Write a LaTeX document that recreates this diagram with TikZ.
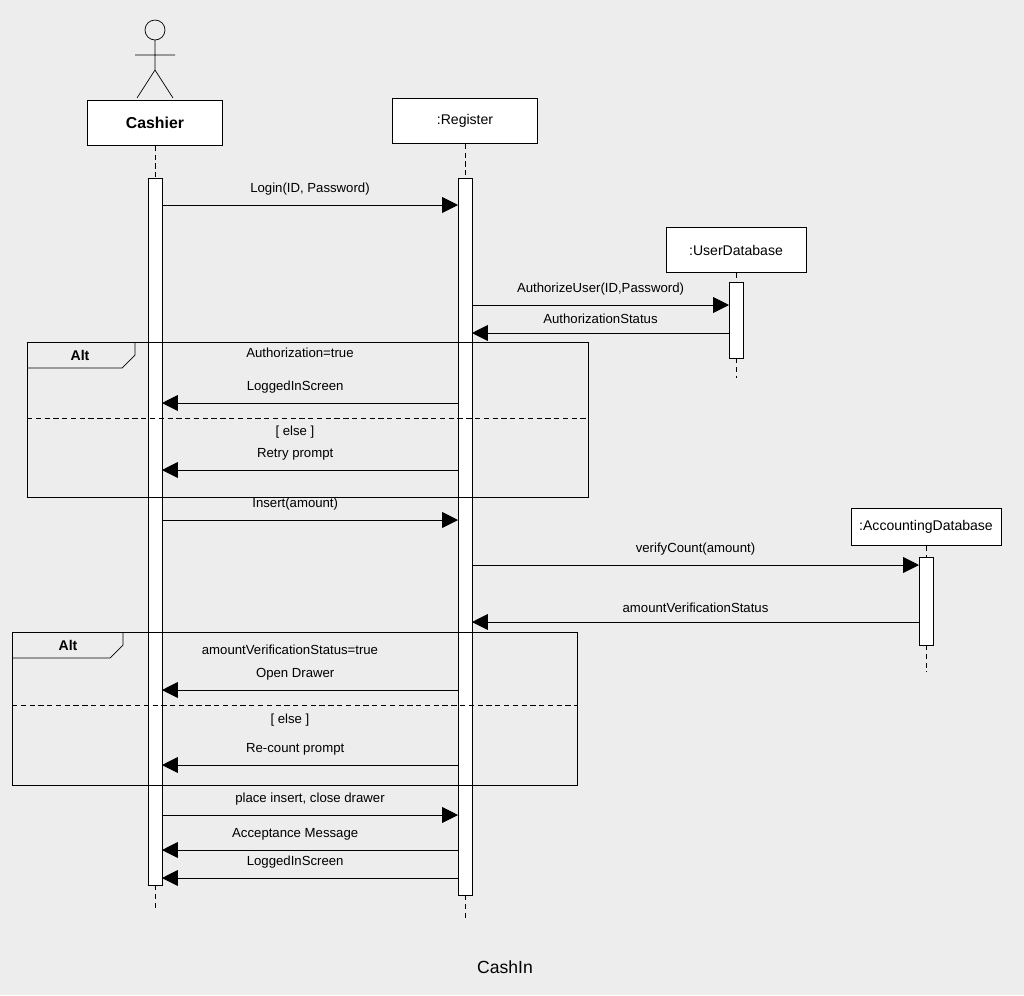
\documentclass[tikz,border=0pt]{standalone}
\usepackage{fontspec}
\setmainfont{Liberation Sans}
\usetikzlibrary{arrows.meta}
\begin{document}
\begin{tikzpicture}[x=0.02cm,y=-0.02cm,
  obj/.style={draw,fill=white,minimum height=0.9cm,font=\fontsize{8}{9}\selectfont,inner sep=2pt},
  act/.style={draw,fill=white},
  life/.style={densely dashed},
  msg/.style={-{Triangle[length=9pt,width=9pt]}},
  lbl/.style={font=\fontsize{7.5}{9}\selectfont,above=2pt},
  guard/.style={font=\fontsize{7.5}{9}\selectfont},
  frm/.style={draw}]
\fill[gray!14] (0,0) rectangle (1024,995);
\useasboundingbox (0,0) rectangle (1024,995);
% actor
\draw (155,30) circle (10);
\draw (155,40) -- (155,70) (135,55) -- (175,55) (155,70) -- (137,98) (155,70) -- (173,98);
\node[obj,minimum width=2.7cm,font=\fontsize{9}{10}\selectfont\bfseries] (cash) at (155,123) {Cashier};
\node[obj,minimum width=2.9cm] (reg) at (465,121) {:Register};
\node[obj,minimum width=2.8cm] (udb) at (736,250) {:UserDatabase};
\node[obj,minimum width=3cm,minimum height=0.75cm] (adb) at (926,527) {:AccountingDatabase};
% lifelines
\draw[life] (cash.south) -- (155,178) (155,885) -- (155,910);
\draw[life] (reg.south) -- (465,178) (465,895) -- (465,920);
\draw[life] (udb.south) -- (736,282) (736,358) -- (736,378);
\draw[life] (adb.south) -- (926,557) (926,645) -- (926,672);
% activations
\draw[act] (148,178) rectangle (162,885);
\draw[act] (458,178) rectangle (472,895);
\draw[act] (729,282) rectangle (743,358);
\draw[act] (919,557) rectangle (933,645);
% frames
\draw[frm] (27,342) rectangle (588,497);
\draw (27,368) -- (122,368) -- (135,355) -- (135,342);
\node[font=\fontsize{8}{9}\selectfont\bfseries] at (80,355) {Alt};
\draw[densely dashed] (27,418) -- (588,418);
\draw[frm] (12,632) rectangle (577,785);
\draw (12,658) -- (110,658) -- (123,645) -- (123,632);
\node[font=\fontsize{8}{9}\selectfont\bfseries] at (68,645) {Alt};
\draw[densely dashed] (12,705) -- (577,705);
\node[guard] at (300,353) {Authorization=true};
\node[guard] at (295,432) {[ else ]};
\node[guard] at (290,650) {amountVerificationStatus=true};
\node[guard] at (290,720) {[ else ]};
% messages
\coordinate (c1) at (162,205); \coordinate (r1) at (458,205);
\draw[msg] (c1) -- node[lbl]{Login(ID, Password)} (r1);
\coordinate (r2) at (472,305); \coordinate (u2) at (729,305);
\draw[msg] (r2) -- node[lbl]{AuthorizeUser(ID,Password)} (u2);
\coordinate (u3) at (729,333); \coordinate (r3) at (472,333);
\draw[msg] (u3) -- node[lbl]{AuthorizationStatus} (r3);
\coordinate (r4) at (458,403); \coordinate (c4) at (162,403);
\draw[msg] (r4) -- node[lbl,pos=0.55]{LoggedInScreen} (c4);
\coordinate (r5) at (458,470); \coordinate (c5) at (162,470);
\draw[msg] (r5) -- node[lbl,pos=0.55]{Retry prompt} (c5);
\coordinate (c6) at (162,520); \coordinate (r6) at (458,520);
\draw[msg] (c6) -- node[lbl,pos=0.45]{Insert(amount)} (r6);
\coordinate (r7) at (472,565); \coordinate (a7) at (919,565);
\draw[msg] (r7) -- node[lbl]{verifyCount(amount)} (a7);
\coordinate (a8) at (919,622); \coordinate (r8) at (472,622);
\draw[msg] (a8) -- node[lbl]{amountVerificationStatus} (r8);
\coordinate (r9) at (458,690); \coordinate (c9) at (162,690);
\draw[msg] (r9) -- node[lbl,pos=0.55]{Open Drawer} (c9);
\coordinate (r10) at (458,765); \coordinate (c10) at (162,765);
\draw[msg] (r10) -- node[lbl,pos=0.55]{Re-count prompt} (c10);
\coordinate (c11) at (162,815); \coordinate (r11) at (458,815);
\draw[msg] (c11) -- node[lbl]{place insert, close drawer} (r11);
\coordinate (r12) at (458,850); \coordinate (c12) at (162,850);
\draw[msg] (r12) -- node[lbl,pos=0.55]{Acceptance Message} (c12);
\coordinate (r13) at (458,878); \coordinate (c13) at (162,878);
\draw[msg] (r13) -- node[lbl,pos=0.55]{LoggedInScreen} (c13);
\node[font=\fontsize{10}{12}\selectfont] (title) at (505,967) {CashIn};
\end{tikzpicture}
\end{document}
